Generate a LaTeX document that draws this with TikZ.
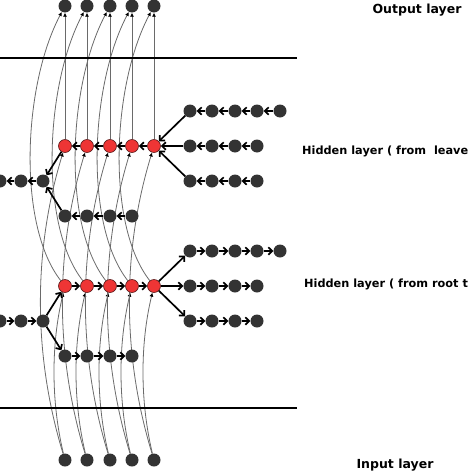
\documentclass[tikz,border=0pt]{standalone}
\usepackage{fontspec}
\setmainfont{DejaVu Sans}
\usetikzlibrary{arrows.meta,backgrounds}
\definecolor{ndgray}{HTML}{333333}
\definecolor{ndred}{HTML}{EE3535}
\definecolor{ndredb}{HTML}{5A1A1A}
\definecolor{linkgray}{HTML}{6A6A6A}
\begin{document}
\begin{tikzpicture}[x=1pt,y=-1pt,
  nd/.style={circle,fill=ndgray,inner sep=0pt,minimum size=13pt},
  rd/.style={circle,fill=ndred,draw=ndredb,line width=0.6pt,inner sep=0pt,minimum size=13pt},
  chain/.style={line width=1.7pt,-{Straight Barb[length=3.8pt,width=7.5pt]}},
  link/.style={draw=linkgray,line width=0.8pt,-{Latex[length=4pt,width=4pt,color=black]}},
  layer/.style={line width=1.7pt},
  lbl/.style={font=\fontsize{12.5}{14}\selectfont\bfseries,inner sep=0pt},
  lbls/.style={font=\fontsize{11.3}{14}\selectfont\bfseries,inner sep=0pt,anchor=west}
]
\useasboundingbox (0,0) rectangle (474,474);
% columns
\foreach \i/\x in {1/65,2/87,3/110,4/132,5/154} {
  \node[nd] (o\i) at (\x,6) {};
  \node[rd] (u\i) at (\x,146) {};
  \node[rd] (p\i) at (\x,286) {};
  \node[nd] (i\i) at (\x,460) {};
}
% right chains
\foreach \i/\x in {1/190,2/212,3/235,4/257,5/280} {
  \node[nd] (ra\i) at (\x,111) {};
  \node[nd] (sa\i) at (\x,251) {};
}
\foreach \i/\x in {1/190,2/212,3/235,4/257} {
  \node[nd] (rb\i) at (\x,146) {};
  \node[nd] (rc\i) at (\x,181) {};
  \node[nd] (sb\i) at (\x,286) {};
  \node[nd] (sc\i) at (\x,321) {};
}
% lower sub-chains
\foreach \i/\x in {1/65,2/87,3/110,4/132} {
  \node[nd] (d\i) at (\x,216) {};
  \node[nd] (e\i) at (\x,356) {};
}
% left chains
\foreach \i/\x in {1/0,2/21,3/43} {
  \node[nd] (l\i) at (\x,181) {};
  \node[nd] (m\i) at (\x,321) {};
}
% chain arrows (upper: leaves to root)
\foreach \a/\b in {ra5/ra4,ra4/ra3,ra3/ra2,ra2/ra1,rb4/rb3,rb3/rb2,rb2/rb1,rc4/rc3,rc3/rc2,rc2/rc1,ra1/u5,rb1/u5,rc1/u5,u5/u4,u4/u3,u3/u2,u2/u1,u1/l3,d4/d3,d3/d2,d2/d1,d1/l3,l3/l2,l2/l1}
  \draw[chain] (\a) -- (\b);
% chain arrows (lower: root to leaves)
\foreach \a/\b in {sa4/sa5,sa3/sa4,sa2/sa3,sa1/sa2,sb3/sb4,sb2/sb3,sb1/sb2,sc3/sc4,sc2/sc3,sc1/sc2,p5/sa1,p5/sb1,p5/sc1,p4/p5,p3/p4,p2/p3,p1/p2,m3/p1,e3/e4,e2/e3,e1/e2,m3/e1,m2/m3,m1/m2}
  \draw[chain] (\a) -- (\b);
% gray links
\begin{scope}[on background layer]
\foreach \i/\x in {1/65,2/87,3/110,4/132,5/154} {
  \draw[link] (u\i) -- (o\i);
  \draw[link] (p\i) .. controls (\x-48,225) and (\x-42,85) .. (o\i);
  \draw[link] (i\i) .. controls (\x-32,355) and (\x-32,251) .. (u\i);
  \draw[link] (i\i) .. controls (\x-14,402) and (\x-14,344) .. (p\i);
}
\end{scope}
% layer separators
\coordinate (h1a) at (0,58);
\coordinate (h1b) at (297,58);
\coordinate (h2a) at (0,408);
\coordinate (h2b) at (297,408);
\draw[layer] (h1a) -- (h1b);
\draw[layer] (h2a) -- (h2b);
% labels
\node[lbl] (tout) at (417,10) {Output layer};
\node[lbls] (thl) at (302,151) {Hidden layer ( from~ leave};
\node[lbls] (thr) at (304,284) {Hidden layer ( from root t};
\node[lbl] (tin) at (395,465) {Input layer};
\end{tikzpicture}
\end{document}
